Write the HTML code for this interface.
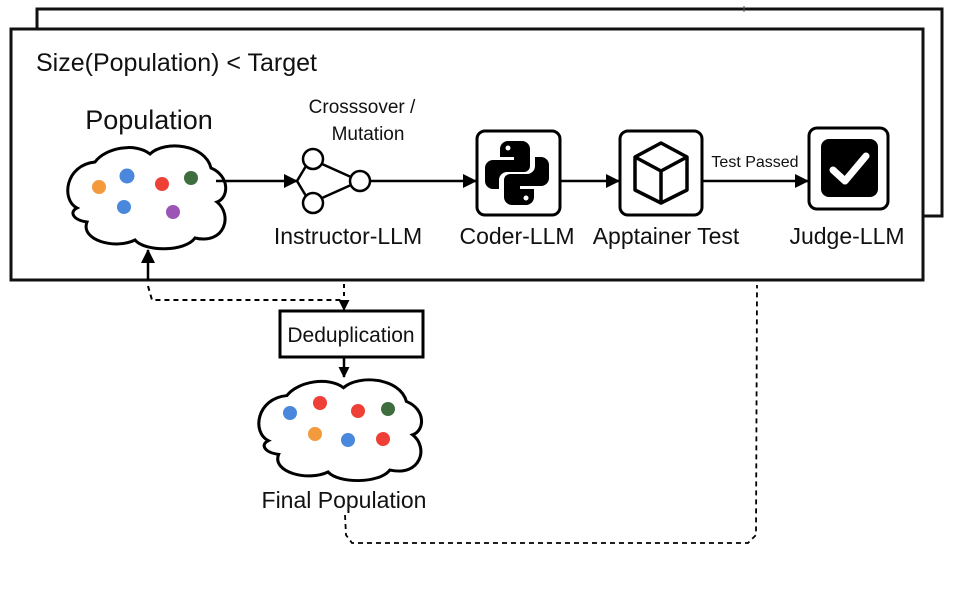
<!DOCTYPE html>
<html><head><meta charset="utf-8"><style>
html,body{margin:0;padding:0;background:#fff;}
svg{display:block;}
text{font-family:"Liberation Sans",sans-serif;fill:#111;}
</style></head><body>
<svg width="953" height="591" viewBox="0 0 953 591" xmlns="http://www.w3.org/2000/svg">
<defs>
<marker id="ah" markerWidth="14" markerHeight="14" refX="13" refY="7" orient="auto" markerUnits="userSpaceOnUse"><path d="M0,0 L14,7 L0,14 z" fill="#000"/></marker>
<marker id="ahs" markerWidth="11" markerHeight="11" refX="10" refY="5.5" orient="auto" markerUnits="userSpaceOnUse"><path d="M0,0 L11,5.5 L0,11 z" fill="#000"/></marker>
<path id="cloud" d="M12,68 C-4,60 0,25 30,22 C40,8 70,2 85,14 C100,0 140,4 146,28 C165,36 164,58 152,62 C168,75 160,105 130,98 C120,112 80,112 70,100 C50,110 15,100 22,82 C8,80 4,72 12,68 Z"/>
</defs>
<rect width="953" height="591" fill="#fff"/>
<rect x="37" y="9" width="905" height="207" fill="#fff" stroke="#111" stroke-width="3"/>
<rect x="11" y="29" width="912" height="251" fill="#fff" stroke="#111" stroke-width="3"/>
<text x="36" y="71" font-size="25">Size(Population) &lt; Target</text>
<text x="149" y="129" font-size="27" text-anchor="middle">Population</text>
<use href="#cloud" transform="translate(65,140)" fill="#fff" stroke="#000" stroke-width="3"/>
<circle cx="99" cy="187" r="7" fill="#f39a3c"/>
<circle cx="127" cy="176" r="7.5" fill="#4a88dd"/>
<circle cx="162" cy="184" r="7" fill="#ee4036"/>
<circle cx="191" cy="178" r="7" fill="#3e6e3e"/>
<circle cx="124" cy="207" r="7" fill="#4a88dd"/>
<circle cx="173" cy="212" r="7" fill="#9c55b5"/>
<line x1="216" y1="181" x2="297" y2="181" stroke="#000" stroke-width="2.5" marker-end="url(#ah)"/>
<text x="362" y="113" font-size="19" text-anchor="middle">Crosssover /</text>
<text x="368" y="140" font-size="19" text-anchor="middle">Mutation</text>
<line x1="297" y1="181" x2="306" y2="166" stroke="#000" stroke-width="2.5"/>
<line x1="297" y1="181" x2="306" y2="196" stroke="#000" stroke-width="2.5"/>
<line x1="322" y1="164" x2="351" y2="177" stroke="#000" stroke-width="2.5"/>
<line x1="322" y1="198" x2="351" y2="185" stroke="#000" stroke-width="2.5"/>
<circle cx="313" cy="159" r="10" fill="#fff" stroke="#000" stroke-width="2.5"/>
<circle cx="313" cy="203" r="10" fill="#fff" stroke="#000" stroke-width="2.5"/>
<circle cx="360" cy="181" r="10" fill="#fff" stroke="#000" stroke-width="2.5"/>
<text x="348" y="244" font-size="23" text-anchor="middle">Instructor-LLM</text>
<line x1="370" y1="181" x2="476" y2="181" stroke="#000" stroke-width="2.5" marker-end="url(#ah)"/>
<rect x="477" y="131" width="83" height="84" rx="8" fill="#fff" stroke="#000" stroke-width="3"/>
<g fill="#000">
<path d="M510,141 h12 a8,8 0 0 1 8,8 v17 a6,6 0 0 1 -6,6 h-17 a8,8 0 0 0 -8,8 v9 h-6 a8,8 0 0 1 -8,-8 v-13 a8,8 0 0 1 8,-8 h21 v-3 h-14 v-8 a8,8 0 0 1 8,-8 z"/>
<path transform="rotate(180 517 173)" d="M510,141 h12 a8,8 0 0 1 8,8 v17 a6,6 0 0 1 -6,6 h-17 a8,8 0 0 0 -8,8 v9 h-6 a8,8 0 0 1 -8,-8 v-13 a8,8 0 0 1 8,-8 h21 v-3 h-14 v-8 a8,8 0 0 1 8,-8 z"/>
</g>
<circle cx="508" cy="148" r="2.5" fill="#fff"/>
<circle cx="526" cy="198" r="2.5" fill="#fff"/>
<text x="517" y="244" font-size="23" text-anchor="middle">Coder-LLM</text>
<line x1="561" y1="181" x2="619" y2="181" stroke="#000" stroke-width="2.5" marker-end="url(#ah)"/>
<rect x="620" y="131" width="82" height="84" rx="8" fill="#fff" stroke="#000" stroke-width="3"/>
<g fill="none" stroke="#000" stroke-width="3.5" stroke-linejoin="round">
<path d="M661,143 L687,157 L687,190 L661,203 L635,190 L635,157 Z"/>
<path d="M635,157 L661,171 L687,157 M661,171 L661,203"/>
</g>
<text x="666" y="244" font-size="23" text-anchor="middle">Apptainer Test</text>
<line x1="703" y1="181" x2="808" y2="181" stroke="#000" stroke-width="2.5" marker-end="url(#ah)"/>
<text x="755" y="167" font-size="16" text-anchor="middle">Test Passed</text>
<rect x="809" y="128" width="79" height="81" rx="8" fill="#fff" stroke="#000" stroke-width="3"/>
<rect x="821" y="139" width="57" height="58" rx="8" fill="#000"/>
<path d="M833,170 L845,181 L866,156" fill="none" stroke="#fff" stroke-width="7" stroke-linecap="round" stroke-linejoin="round"/>
<text x="847" y="244" font-size="23" text-anchor="middle">Judge-LLM</text>
<line x1="148" y1="280" x2="148" y2="250" stroke="#000" stroke-width="2.5" marker-end="url(#ah)"/>
<path d="M148,286 L152,300 L344,300" fill="none" stroke="#000" stroke-width="2" stroke-dasharray="5,4"/>
<line x1="344" y1="284" x2="344" y2="310" stroke="#000" stroke-width="2" stroke-dasharray="4,4" marker-end="url(#ahs)"/>
<rect x="280" y="311" width="143" height="46" fill="#fff" stroke="#000" stroke-width="3"/>
<text x="351" y="342" font-size="21" text-anchor="middle">Deduplication</text>
<line x1="344" y1="357" x2="344" y2="377" stroke="#000" stroke-width="2.5" marker-end="url(#ahs)"/>
<use href="#cloud" transform="translate(256,374) scale(1.03,0.98)" fill="#fff" stroke="#000" stroke-width="3"/>
<circle cx="290" cy="413" r="7" fill="#4a88dd"/>
<circle cx="320" cy="403" r="7" fill="#ee4036"/>
<circle cx="358" cy="411" r="7" fill="#ee4036"/>
<circle cx="388" cy="409" r="7" fill="#3e6e3e"/>
<circle cx="315" cy="434" r="7" fill="#f39a3c"/>
<circle cx="348" cy="440" r="7" fill="#4a88dd"/>
<circle cx="383" cy="439" r="7" fill="#ee4036"/>
<text x="344" y="508" font-size="23" text-anchor="middle">Final Population</text>
<path d="M345,515 L346,535 L352,543 L748,543 L756,535 L757,285" fill="none" stroke="#000" stroke-width="1.8" stroke-dasharray="5,4"/>
<line x1="744" y1="6" x2="744" y2="12" stroke="#555" stroke-width="1"/>
</svg>
</body></html>
